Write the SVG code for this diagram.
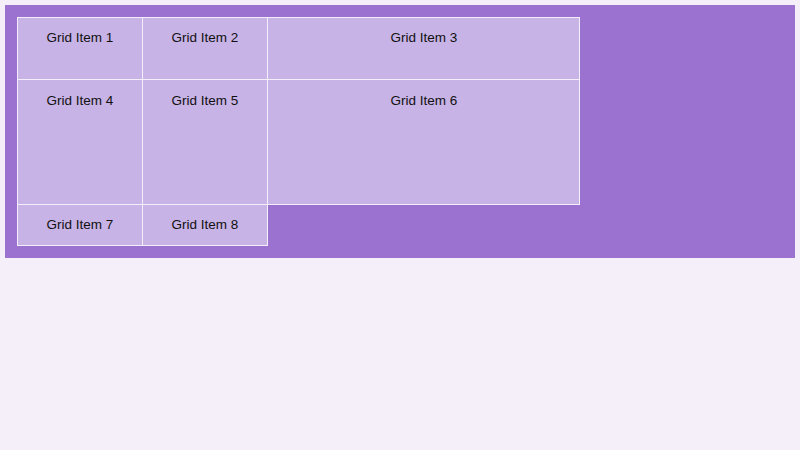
<svg xmlns="http://www.w3.org/2000/svg" width="800" height="450" viewBox="0 0 800 450">
<style>
.item rect{fill:#c8b3e6;stroke:#f4eefb;stroke-width:1}
.item text{font-family:"Liberation Sans",Arial,sans-serif;font-size:13.5px;fill:#111;text-anchor:middle}
</style>
<rect x="0" y="0" width="800" height="450" fill="#f4eff9"/>
<rect id="container" x="5" y="5" width="790" height="253" fill="#9b72cf"/>
<g id="item1" class="item"><rect x="17.5" y="17.5" width="125" height="62"/><text x="80" y="42">Grid Item 1</text></g>
<g id="item2" class="item"><rect x="142.5" y="17.5" width="125" height="62"/><text x="205" y="42">Grid Item 2</text></g>
<g id="item3" class="item"><rect x="267.5" y="17.5" width="312" height="62"/><text x="424" y="42">Grid Item 3</text></g>
<g id="item4" class="item"><rect x="17.5" y="79.5" width="125" height="125"/><text x="80" y="105">Grid Item 4</text></g>
<g id="item5" class="item"><rect x="142.5" y="79.5" width="125" height="125"/><text x="205" y="105">Grid Item 5</text></g>
<g id="item6" class="item"><rect x="267.5" y="79.5" width="312" height="125"/><text x="424" y="105">Grid Item 6</text></g>
<g id="item7" class="item"><rect x="17.5" y="204.5" width="125" height="41"/><text x="80" y="229">Grid Item 7</text></g>
<g id="item8" class="item"><rect x="142.5" y="204.5" width="125" height="41"/><text x="205" y="229">Grid Item 8</text></g>
<g id="connectors"/>
</svg>
